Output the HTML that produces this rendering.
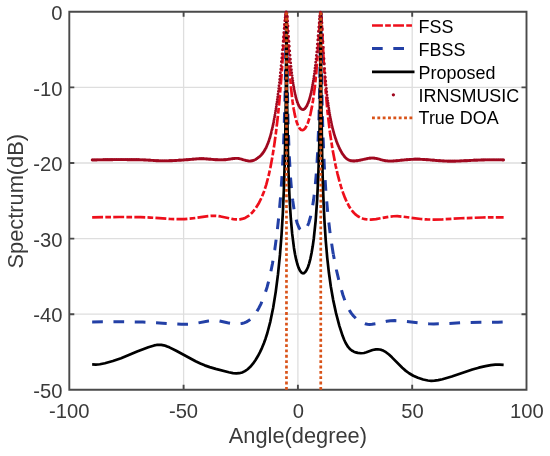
<!DOCTYPE html>
<html><head><meta charset="utf-8"><style>html,body{margin:0;padding:0;background:#fff;}svg{display:block;}</style></head>
<body>
<svg width="550" height="456" viewBox="0 0 550 456">
<rect width="550" height="456" fill="#fff"/>
<path d="M183.60 11.8V389.8M297.90 11.8V389.8M412.20 11.8V389.8M69.3 87.40H526.5M69.3 163.00H526.5M69.3 238.60H526.5M69.3 314.20H526.5" stroke="#dedede" stroke-width="1.3" fill="none"/>
<clipPath id="c"><rect x="69.3" y="11.8" width="457.2" height="378.0"/></clipPath>
<g clip-path="url(#c)" fill="none" stroke-linejoin="round">
<g stroke="#ee0f1b" stroke-width="2.7" stroke-dasharray="10.9 2.25 5.7 2.25"><path d="M92.16 217.30 119.36 216.98 140.67 217.18 150.50 217.58 170.34 219.01 179.30 219.21 184.56 219.03 189.73 218.64 195.94 217.91 208.15 216.17 211.44 215.88 214.37 215.82 217.34 215.99 220.63 216.45 233.25 219.11 235.81 219.40 238.14 219.46 240.11 219.30 241.98 218.95 243.81 218.40 245.55 217.67 248.93 215.59 252.13 212.70 255.38 208.72 258.49 203.80 261.37 198.09 263.93 191.76 266.26 184.62 268.41 176.58 270.42 167.50 272.39 156.90 274.17 145.63 275.86 133.31 277.46 119.91 278.97 105.42 281.72 72.82 285.18 20.57 285.84 14.03 286.14 12.41 286.44 11.81 286.71 13.00 287.02 17.40 288.58 51.92 289.72 71.55 291.04 88.05 292.55 101.42 293.56 108.17 294.61 113.87 295.75 118.80 296.94 122.79 298.22 126.00 299.55 128.30 300.92 129.69 301.60 130.04 302.33 130.16 303.07 130.03 303.80 129.65 305.22 128.20 306.63 125.80 308.00 122.51 309.33 118.36 310.61 113.32 311.84 107.36 312.99 100.68 314.72 87.83 316.28 72.56 317.79 52.88 319.96 17.65 320.44 12.82 320.66 11.90 320.77 11.80 320.87 11.96 321.21 14.22 321.58 19.42 323.73 61.85 325.42 87.97 327.48 111.46 329.90 132.17"/><path d="M329.90 132.17 332.56 149.63 335.66 165.75 337.40 173.32 339.23 180.41 341.11 186.87 343.03 192.69 344.90 197.65 346.77 201.93 348.74 205.72 350.75 208.95 352.90 211.78 355.14 214.12 357.52 216.03 360.03 217.52 362.46 218.51 365.11 219.19 367.90 219.55 370.91 219.60 376.04 219.07 389.39 216.65 393.45 216.27 397.25 216.22 402.96 216.67 420.80 219.02 427.10 219.45 433.60 219.58 442.60 219.34 460.85 218.25 482.47 217.50 492.44 217.28 503.64 217.30" stroke-dashoffset="2.69"/></g>
<g stroke="#2340a6" stroke-width="3.0" stroke-dasharray="10.7 10.6"><path d="M92.16 321.89 119.59 321.78 142.91 322.06 148.99 322.32 162.75 323.28 181.45 324.24 186.07 324.33 189.50 324.18 193.16 323.79 197.73 323.04 208.38 320.96 211.53 320.58 214.37 320.48 219.08 320.95 227.54 322.83 231.38 323.49 235.31 323.85 238.97 323.81 241.76 323.47 244.22 322.84 246.56 321.88 248.75 320.56 250.85 318.85 252.91 316.73 254.97 314.15 256.98 311.17 258.90 307.89 260.73 304.32 264.07 296.43 267.08 287.22 269.83 276.56 272.39 264.05 274.77 249.67 276.96 233.37 278.88 215.81 280.43 198.29 281.81 179.06 282.95 158.65 283.91 136.26 285.19 90.33 286.47 11.80 287.25 80.97 287.95 118.52 289.08 152.33 290.58 178.50 291.59 190.32 292.78 200.94 294.11 209.90 295.57 217.27 297.21 223.26 299.00 227.61 299.91 229.13 300.87 230.25 301.83 230.92 302.84 231.16 303.84 230.93 304.85 230.25 305.86 229.10 306.86 227.46 308.74 222.99 310.52 216.76 312.12 209.10 313.58 199.85 314.91 188.89 316.05 176.61 316.97 163.97 317.74 150.23 319.02 116.78 319.82 80.51 320.77 11.82 321.62 75.66 322.20 107.13 323.09 138.26 324.28 165.93 325.88 191.58 327.89 214.57 330.36 235.38 333.33 254.40"/><path d="M333.33 254.40 336.30 269.51 339.64 283.56 343.03 295.23 344.72 300.12 346.36 304.23 348.01 307.74 349.75 310.86 351.58 313.59 353.54 316.03 355.83 318.35 358.20 320.31 360.63 321.88 363.10 323.07 365.20 323.76 367.39 324.20 369.63 324.39 372.01 324.33 375.94 323.74 383.44 321.88 386.55 321.25 390.48 320.77 394.69 320.59 402.23 320.92 423.45 323.32 428.80 323.73 433.69 323.90 442.70 323.75 460.39 322.79 470.08 322.43 480.60 322.26 497.92 322.27 503.64 322.00" stroke-dashoffset="5.96"/></g>
<path d="M92.16 364.47 95.77 364.68 99.89 364.27 104.87 363.20 112.87 361.05 121.06 358.28 137.10 351.47 148.35 347.20 154.20 345.42 156.63 344.97 158.87 344.79 161.29 344.88 163.76 345.33 166.41 346.13 169.38 347.33 176.19 350.77 195.58 361.25 200.33 363.55 204.68 365.36 209.75 367.13 215.70 368.88 228.77 372.24 232.98 373.12 236.32 373.42 239.24 373.21 242.12 372.45 244.91 371.13 247.65 369.24 250.31 366.80 252.96 363.70 255.56 360.01 257.80 356.31 260.00 352.17 262.01 347.86 263.88 343.28 265.62 338.45 267.27 333.25 270.33 321.55 273.17 307.70 275.77 291.60 278.01 274.15 279.98 254.68 281.53 234.86 282.81 213.52 283.86 189.90 284.66 164.93 285.27 137.79 285.72 106.72 286.47 11.80 287.13 103.35 288.06 157.74 288.76 180.10 289.67 200.53 290.81 218.48 292.14 233.41 293.97 247.93 295.02 254.17 296.12 259.45 297.31 264.01 298.54 267.66 299.87 270.50 301.19 272.32 301.88 272.89 302.56 273.21 303.25 273.29 303.94 273.12 305.31 272.05 306.63 270.07 307.91 267.21 309.19 263.36 310.43 258.58 311.57 253.07 312.71 246.32 313.76 238.76 315.64 220.80 317.15 199.59 318.34 174.61 319.20 146.76 319.84 113.70 320.76 11.80 321.36 102.76 322.19 157.90 322.81 181.84 323.59 203.20 324.55 222.54 325.74 240.59 327.21 257.56 328.90 272.80 330.86 286.80 333.15 299.85 336.03 313.15 339.37 325.84 342.61 335.86 344.17 339.79 345.68 343.01 348.10 346.93 349.43 348.50 350.80 349.77 352.26 350.81 353.86 351.66 355.83 352.41 357.79 352.92 360.90 353.26 363.92 352.97 366.43 352.27 372.56 350.01 375.90 349.34 377.77 349.29 379.60 349.48 381.38 349.92 383.17 350.60 385.96 352.19 388.97 354.56 391.95 357.35 402.28 367.75 405.84 370.87 409.09 373.27 413.30 375.74 417.96 377.81 423.17 379.54 427.88 380.52 431.17 380.79 434.56 380.67 438.26 380.17 442.42 379.27 451.75 376.53 472.37 369.46 478.77 367.68 485.49 366.13 490.84 365.15 495.32 364.64 499.48 364.53 503.64 364.80" stroke="#000" stroke-width="2.7"/>
</g>
<path d="M69.3 11.8H526.5V389.8H69.3ZM183.60 389.8v-5.0M183.60 11.8v5.0M297.90 389.8v-5.0M297.90 11.8v5.0M412.20 389.8v-5.0M412.20 11.8v5.0M69.3 87.40h5.0M526.5 87.40h-5.0M69.3 163.00h5.0M526.5 163.00h-5.0M69.3 238.60h5.0M526.5 238.60h-5.0M69.3 314.20h5.0M526.5 314.20h-5.0" stroke="#4a4a4a" stroke-width="1.9" fill="none"/>
<path d="M92.2 160.0h0M92.8 160.0h0M93.5 160.0h0M94.2 160.0h0M94.9 160.0h0M95.6 160.0h0M96.3 160.0h0M97.0 160.0h0M97.6 159.9h0M98.3 159.9h0M99.0 159.9h0M99.7 159.9h0M100.4 159.9h0M101.1 159.9h0M101.8 159.9h0M102.4 159.9h0M103.1 159.8h0M103.8 159.8h0M104.5 159.8h0M105.2 159.8h0M105.9 159.8h0M106.6 159.8h0M107.2 159.8h0M107.9 159.7h0M108.6 159.7h0M109.3 159.7h0M110.0 159.7h0M110.7 159.7h0M111.4 159.7h0M112.0 159.7h0M112.7 159.7h0M113.4 159.6h0M114.1 159.6h0M114.8 159.6h0M115.5 159.6h0M116.2 159.6h0M116.8 159.6h0M117.5 159.6h0M118.2 159.6h0M118.9 159.6h0M119.6 159.6h0M120.3 159.6h0M121.0 159.6h0M121.6 159.6h0M122.3 159.6h0M123.0 159.6h0M123.7 159.6h0M124.4 159.6h0M125.1 159.6h0M125.8 159.6h0M126.5 159.6h0M127.1 159.7h0M127.8 159.7h0M128.5 159.7h0M129.2 159.7h0M129.9 159.7h0M130.6 159.7h0M131.3 159.7h0M131.9 159.7h0M132.6 159.7h0M133.3 159.7h0M134.0 159.8h0M134.7 159.8h0M135.4 159.8h0M136.1 159.8h0M136.7 159.8h0M137.4 159.8h0M138.1 159.8h0M138.8 159.8h0M139.5 159.8h0M140.2 159.9h0M140.9 159.9h0M141.5 159.9h0M142.2 159.9h0M142.9 159.9h0M143.6 160.0h0M144.3 160.0h0M145.0 160.0h0M145.7 160.0h0M146.3 160.1h0M147.0 160.1h0M147.7 160.1h0M148.4 160.2h0M149.1 160.2h0M149.8 160.3h0M150.5 160.3h0M151.1 160.4h0M151.8 160.4h0M152.5 160.4h0M153.2 160.5h0M153.9 160.5h0M154.6 160.6h0M155.3 160.6h0M155.9 160.7h0M156.6 160.7h0M157.3 160.8h0M158.0 160.8h0M158.7 160.8h0M159.4 160.9h0M160.1 160.9h0M160.7 160.9h0M161.4 160.9h0M162.1 160.9h0M162.8 160.9h0M163.5 160.9h0M164.2 160.9h0M164.9 160.9h0M165.5 160.9h0M166.2 160.9h0M166.9 160.9h0M167.6 160.9h0M168.3 160.9h0M169.0 160.8h0M169.7 160.8h0M170.3 160.8h0M171.0 160.7h0M171.7 160.7h0M172.4 160.7h0M173.1 160.6h0M173.8 160.6h0M174.5 160.6h0M175.1 160.5h0M175.8 160.5h0M176.5 160.5h0M177.2 160.4h0M177.9 160.4h0M178.6 160.3h0M179.3 160.3h0M179.9 160.3h0M180.6 160.2h0M181.3 160.2h0M182.0 160.1h0M182.7 160.1h0M183.4 160.0h0M184.1 160.0h0M184.7 159.9h0M185.4 159.9h0M186.1 159.8h0M186.8 159.8h0M187.5 159.7h0M188.2 159.7h0M188.9 159.6h0M189.5 159.5h0M190.2 159.5h0M190.9 159.4h0M191.6 159.4h0M192.3 159.3h0M193.0 159.2h0M193.7 159.2h0M194.3 159.1h0M195.0 159.1h0M195.7 159.0h0M196.4 159.0h0M197.1 158.9h0M197.8 158.9h0M198.5 158.9h0M199.1 158.8h0M199.8 158.8h0M200.5 158.8h0M201.2 158.8h0M201.9 158.8h0M202.6 158.8h0M203.3 158.8h0M203.9 158.8h0M204.6 158.9h0M205.3 158.9h0M206.0 159.0h0M206.7 159.0h0M207.4 159.0h0M208.1 159.1h0M208.7 159.2h0M209.4 159.2h0M210.1 159.3h0M210.8 159.3h0M211.5 159.4h0M212.2 159.4h0M212.9 159.5h0M213.5 159.6h0M214.2 159.6h0M214.9 159.7h0M215.6 159.7h0M216.3 159.8h0M217.0 159.8h0M217.7 159.8h0M218.3 159.9h0M219.0 159.9h0M219.7 159.9h0M220.4 159.9h0M221.1 159.9h0M221.8 159.9h0M222.5 159.9h0M223.1 159.9h0M223.8 159.8h0M224.5 159.8h0M225.2 159.7h0M225.9 159.7h0M226.6 159.6h0M227.3 159.5h0M227.9 159.4h0M228.6 159.3h0M229.3 159.2h0M230.0 159.1h0M230.7 159.0h0M231.4 158.9h0M232.1 158.8h0M232.7 158.7h0M233.4 158.6h0M234.1 158.5h0M234.8 158.5h0M235.5 158.4h0M236.2 158.4h0M236.9 158.4h0M237.5 158.4h0M238.2 158.5h0M238.9 158.6h0M239.6 158.7h0M240.3 158.9h0M241.0 159.1h0M241.7 159.3h0M242.4 159.5h0M243.0 159.7h0M243.7 159.9h0M244.4 160.1h0M245.1 160.3h0M245.8 160.5h0M246.5 160.6h0M247.2 160.8h0M247.8 160.9h0M248.5 161.0h0M249.2 161.1h0M249.9 161.1h0M250.6 161.0h0M251.3 161.0h0M252.0 160.8h0M252.6 160.7h0M253.3 160.5h0M254.0 160.2h0M254.7 159.9h0M255.4 159.6h0M256.1 159.2h0M256.8 158.8h0M257.4 158.3h0M258.1 157.8h0M258.8 157.3h0M259.5 156.7h0M260.2 156.1h0M260.9 155.4h0M261.6 154.7h0M261.9 154.3h0M262.2 153.9h0M262.6 153.5h0M262.9 153.0h0M263.3 152.5h0M263.6 152.1h0M264.0 151.5h0M264.3 151.0h0M264.6 150.4h0M265.0 149.8h0M265.3 149.2h0M265.7 148.6h0M266.0 147.9h0M266.4 147.2h0M266.7 146.4h0M267.0 145.6h0M267.4 144.8h0M267.7 144.0h0M268.1 143.1h0M268.4 142.1h0M268.8 141.2h0M269.1 140.2h0M269.4 139.1h0M269.8 138.0h0M270.1 136.9h0M270.5 135.7h0M270.8 134.4h0M271.2 133.1h0M271.5 131.7h0M271.8 130.3h0M272.2 128.9h0M272.5 127.4h0M272.9 125.8h0M273.2 124.2h0M273.6 122.5h0M273.9 120.7h0M274.2 118.9h0M274.6 117.0h0M274.9 115.1h0M275.3 113.1h0M275.6 111.0h0M276.0 108.8h0M276.3 106.6h0M276.6 104.3h0M277.0 101.9h0M277.3 99.4h0M277.7 96.9h0M278.0 94.2h0M278.4 91.5h0M278.7 88.6h0M279.0 85.7h0M279.4 82.6h0M279.7 79.5h0M280.1 76.2h0M280.4 72.8h0M280.8 69.3h0M281.1 65.6h0M281.4 61.8h0M281.8 58.0h0M282.1 53.9h0M282.5 49.8h0M282.8 45.6h0M283.2 41.3h0M283.5 37.0h0M283.8 32.7h0M284.2 28.5h0M284.5 24.5h0M284.9 20.8h0M285.2 17.5h0M285.6 14.9h0M285.9 13.0h0M286.2 12.0h0M286.9 13.5h0M287.3 16.8h0M287.6 21.2h0M288.0 26.1h0M288.3 31.3h0M288.6 36.5h0M289.0 41.5h0M289.3 46.3h0M289.7 50.9h0M290.0 55.2h0M290.4 59.2h0M290.7 62.9h0M291.0 66.4h0M291.4 69.7h0M291.7 72.7h0M292.1 75.6h0M292.4 78.2h0M292.8 80.8h0M293.1 83.1h0M293.4 85.3h0M293.8 87.3h0M294.1 89.3h0M294.5 91.1h0M294.8 92.8h0M295.2 94.4h0M295.5 95.8h0M295.8 97.2h0M296.2 98.5h0M296.5 99.7h0M296.9 100.8h0M297.2 101.9h0M297.6 102.8h0M297.9 103.7h0M298.2 104.5h0M298.6 105.3h0M298.9 106.0h0M299.3 106.6h0M299.6 107.2h0M300.0 107.7h0M300.3 108.1h0M300.6 108.5h0M301.3 109.0h0M302.0 109.4h0M302.7 109.6h0M303.4 109.5h0M304.1 109.2h0M304.8 108.7h0M305.4 108.0h0M305.8 107.6h0M306.1 107.1h0M306.5 106.5h0M306.8 105.9h0M307.2 105.3h0M307.5 104.5h0M307.8 103.8h0M308.2 102.9h0M308.5 102.0h0M308.9 101.0h0M309.2 100.0h0M309.6 98.8h0M309.9 97.6h0M310.2 96.4h0M310.6 95.0h0M310.9 93.6h0M311.3 92.1h0M311.6 90.5h0M312.0 88.8h0M312.3 87.0h0M312.6 85.0h0M313.0 83.0h0M313.3 80.9h0M313.7 78.7h0M314.0 76.3h0M314.4 73.8h0M314.7 71.1h0M315.0 68.3h0M315.4 65.4h0M315.7 62.3h0M316.1 59.0h0M316.4 55.5h0M316.8 51.9h0M317.1 48.1h0M317.4 44.1h0M317.8 40.0h0M318.1 35.7h0M318.5 31.4h0M318.8 27.1h0M319.2 23.0h0M319.5 19.2h0M319.8 15.9h0M320.2 13.5h0M320.5 12.1h0M321.2 13.9h0M321.6 17.8h0M321.9 23.0h0M322.2 29.0h0M322.6 35.3h0M322.9 41.5h0M323.3 47.5h0M323.6 53.3h0M324.0 58.7h0M324.3 63.8h0M324.6 68.6h0M325.0 73.1h0M325.3 77.3h0M325.7 81.3h0M326.0 85.0h0M326.4 88.5h0M326.7 91.8h0M327.0 94.9h0M327.4 97.9h0M327.7 100.7h0M328.1 103.3h0M328.4 105.8h0M328.8 108.2h0M329.1 110.5h0M329.4 112.6h0M329.8 114.7h0M330.1 116.6h0M330.5 118.5h0M330.8 120.3h0M331.2 122.0h0M331.5 123.6h0M331.8 125.2h0M332.2 126.7h0M332.5 128.1h0M332.9 129.5h0M333.2 130.8h0M333.6 132.1h0M333.9 133.3h0M334.2 134.5h0M334.6 135.6h0M334.9 136.7h0M335.3 137.8h0M335.6 138.8h0M336.0 139.8h0M336.3 140.8h0M336.6 141.7h0M337.0 142.6h0M337.3 143.5h0M337.7 144.4h0M338.0 145.2h0M338.4 146.0h0M338.7 146.8h0M339.0 147.5h0M339.4 148.3h0M339.7 149.0h0M340.1 149.7h0M340.4 150.3h0M340.8 151.0h0M341.1 151.6h0M341.4 152.2h0M341.8 152.8h0M342.1 153.4h0M342.5 153.9h0M342.8 154.4h0M343.2 154.9h0M343.5 155.4h0M343.8 155.8h0M344.2 156.3h0M344.5 156.7h0M344.9 157.1h0M345.2 157.5h0M345.9 158.1h0M346.6 158.7h0M347.3 159.2h0M348.0 159.6h0M348.6 160.0h0M349.3 160.3h0M350.0 160.5h0M350.7 160.7h0M351.4 160.8h0M352.1 160.9h0M352.8 161.0h0M353.4 161.0h0M354.1 161.0h0M354.8 161.0h0M355.5 160.9h0M356.2 160.8h0M356.9 160.7h0M357.6 160.7h0M358.3 160.5h0M358.9 160.4h0M359.6 160.3h0M360.3 160.2h0M361.0 160.0h0M361.7 159.9h0M362.4 159.7h0M363.1 159.6h0M363.7 159.4h0M364.4 159.3h0M365.1 159.1h0M365.8 159.0h0M366.5 158.8h0M367.2 158.7h0M367.9 158.5h0M368.5 158.4h0M369.2 158.3h0M369.9 158.2h0M370.6 158.2h0M371.3 158.1h0M372.0 158.1h0M372.7 158.1h0M373.3 158.1h0M374.0 158.2h0M374.7 158.2h0M375.4 158.4h0M376.1 158.5h0M376.8 158.6h0M377.5 158.8h0M378.1 158.9h0M378.8 159.1h0M379.5 159.3h0M380.2 159.5h0M380.9 159.7h0M381.6 159.9h0M382.3 160.1h0M382.9 160.2h0M383.6 160.4h0M384.3 160.5h0M385.0 160.7h0M385.7 160.8h0M386.4 160.9h0M387.1 160.9h0M387.7 161.0h0M388.4 161.1h0M389.1 161.1h0M389.8 161.1h0M390.5 161.1h0M391.2 161.1h0M391.9 161.1h0M392.5 161.1h0M393.2 161.0h0M393.9 161.0h0M394.6 160.9h0M395.3 160.9h0M396.0 160.8h0M396.7 160.8h0M397.3 160.7h0M398.0 160.6h0M398.7 160.6h0M399.4 160.5h0M400.1 160.4h0M400.8 160.3h0M401.5 160.3h0M402.1 160.2h0M402.8 160.1h0M403.5 160.1h0M404.2 160.0h0M404.9 159.9h0M405.6 159.9h0M406.3 159.8h0M406.9 159.7h0M407.6 159.7h0M408.3 159.6h0M409.0 159.6h0M409.7 159.5h0M410.4 159.5h0M411.1 159.4h0M411.7 159.4h0M412.4 159.4h0M413.1 159.4h0M413.8 159.3h0M414.5 159.3h0M415.2 159.3h0M415.9 159.3h0M416.5 159.3h0M417.2 159.3h0M417.9 159.3h0M418.6 159.3h0M419.3 159.3h0M420.0 159.3h0M420.7 159.4h0M421.3 159.4h0M422.0 159.4h0M422.7 159.5h0M423.4 159.5h0M424.1 159.5h0M424.8 159.6h0M425.5 159.6h0M426.1 159.7h0M426.8 159.7h0M427.5 159.8h0M428.2 159.8h0M428.9 159.9h0M429.6 159.9h0M430.3 160.0h0M430.9 160.1h0M431.6 160.1h0M432.3 160.2h0M433.0 160.2h0M433.7 160.3h0M434.4 160.3h0M435.1 160.4h0M435.7 160.5h0M436.4 160.5h0M437.1 160.6h0M437.8 160.6h0M438.5 160.7h0M439.2 160.7h0M439.9 160.8h0M440.5 160.8h0M441.2 160.9h0M441.9 160.9h0M442.6 161.0h0M443.3 161.0h0M444.0 161.0h0M444.7 161.1h0M445.3 161.1h0M446.0 161.1h0M446.7 161.1h0M447.4 161.2h0M448.1 161.2h0M448.8 161.2h0M449.5 161.2h0M450.1 161.2h0M450.8 161.2h0M451.5 161.2h0M452.2 161.2h0M452.9 161.2h0M453.6 161.2h0M454.3 161.2h0M454.9 161.2h0M455.6 161.2h0M456.3 161.1h0M457.0 161.1h0M457.7 161.1h0M458.4 161.1h0M459.1 161.1h0M459.7 161.0h0M460.4 161.0h0M461.1 161.0h0M461.8 160.9h0M462.5 160.9h0M463.2 160.9h0M463.9 160.8h0M464.5 160.8h0M465.2 160.8h0M465.9 160.7h0M466.6 160.7h0M467.3 160.7h0M468.0 160.6h0M468.7 160.6h0M469.4 160.5h0M470.0 160.5h0M470.7 160.5h0M471.4 160.4h0M472.1 160.4h0M472.8 160.4h0M473.5 160.3h0M474.2 160.3h0M474.8 160.3h0M475.5 160.2h0M476.2 160.2h0M476.9 160.2h0M477.6 160.2h0M478.3 160.1h0M479.0 160.1h0M479.6 160.1h0M480.3 160.1h0M481.0 160.0h0M481.7 160.0h0M482.4 160.0h0M483.1 160.0h0M483.8 160.0h0M484.4 160.0h0M485.1 159.9h0M485.8 159.9h0M486.5 159.9h0M487.2 159.9h0M487.9 159.9h0M488.6 159.9h0M489.2 159.9h0M489.9 159.9h0M490.6 159.9h0M491.3 159.9h0M492.0 159.9h0M492.7 159.9h0M493.4 159.9h0M494.0 159.9h0M494.7 159.9h0M495.4 159.9h0M496.1 159.9h0M496.8 159.9h0M497.5 159.9h0M498.2 159.9h0M498.8 159.9h0M499.5 159.9h0M500.2 159.9h0M500.9 159.9h0M501.6 159.9h0M502.3 160.0h0M503.0 160.0h0M503.6 160.0h0" stroke="#a0081f" stroke-width="2.9" stroke-linecap="round" fill="none"/>
<path d="M286.47 389.8V11.8M320.76 389.8V11.8" stroke="#d95319" stroke-width="2.7" stroke-dasharray="2.85 2.5" fill="none"/>
<g font-family='"Liberation Sans", Arial, Helvetica, sans-serif' fill='#3a3a3a'>
<g font-size="20.2" text-anchor="end">
<text x="62.4" y="20.00">0</text>
<text x="62.4" y="95.60">-10</text>
<text x="62.4" y="171.20">-20</text>
<text x="62.4" y="246.80">-30</text>
<text x="62.4" y="322.40">-40</text>
<text x="62.4" y="398.00">-50</text>
</g><g font-size="20.2" text-anchor="middle">
<text x="69.20" y="417.6">-100</text>
<text x="183.50" y="417.6">-50</text>
<text x="298.30" y="417.6">0</text>
<text x="412.60" y="417.6">50</text>
<text x="526.90" y="417.6">100</text>
</g>
<text x="297.90" y="443.3" font-size="21.8" text-anchor="middle">Angle(degree)</text>
<text transform="translate(23.1 201.2) rotate(-90)" font-size="21.8" text-anchor="middle">Spectrum(dB)</text>
<g font-size="17.6" fill="#000">
<text transform="translate(418.6 32.9) scale(1.02 1)">FSS</text>
<text transform="translate(418.6 55.6) scale(1.02 1)">FBSS</text>
<text transform="translate(418.6 78.9) scale(1.02 1)">Proposed</text>
<text transform="translate(418.6 101.6) scale(1.02 1)">IRNSMUSIC</text>
<text transform="translate(418.6 124.3) scale(1.02 1)">True DOA</text>
</g></g>
<path d="M372 25.5H413" stroke="#ee0f1b" stroke-width="2.7" stroke-dasharray="10.9 2.25 5.7 2.25" fill="none"/>
<path d="M372 48.5H413" stroke="#2340a6" stroke-width="3.0" stroke-dasharray="10.7 10.6" fill="none"/>
<path d="M372 71.8H414.5" stroke="#000" stroke-width="2.7" fill="none"/>
<circle cx="393.4" cy="94.8" r="1.65" fill="#a0081f"/>
<path d="M372 117.8H413" stroke="#d95319" stroke-width="2.7" stroke-dasharray="2.85 2.5" fill="none"/>
</svg>
</body></html>
